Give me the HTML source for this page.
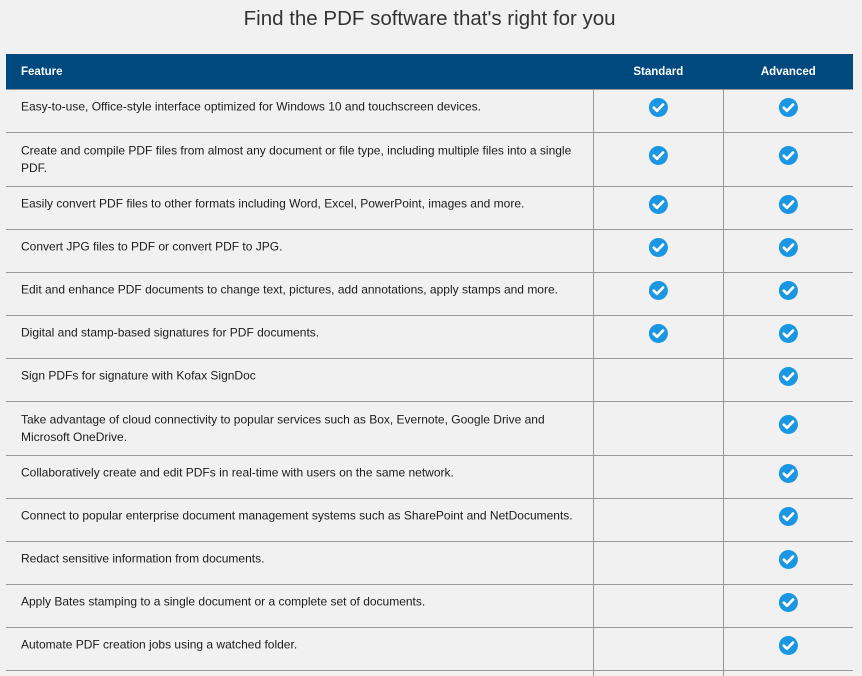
<!DOCTYPE html>
<html>
<head>
<meta charset="utf-8">
<style>
  html, body { margin:0; padding:0; background:#f1f1f1; }
  body { width:862px; height:676px; overflow:hidden; }
  svg { display:block; }
  text { font-family:"Liberation Sans", Arial, sans-serif; }
</style>
</head>
<body>
<svg width="862" height="676" viewBox="0 0 862 676" xmlns="http://www.w3.org/2000/svg">
  <defs>
    <g id="chk">
      <circle cx="0" cy="0" r="9.5" fill="#1a96e2"/>
      <path d="M-4.6,0.2 L-1.4,3.3 L4.6,-2.9" fill="none" stroke="#ffffff" stroke-width="2.7" stroke-linecap="round" stroke-linejoin="round"/>
    </g>
  </defs>
  <rect x="0" y="0" width="862" height="676" fill="#f1f1f1"/>

  <!-- Title -->
  <text x="429.6" y="25" font-size="20.5" fill="#333333" text-anchor="middle">Find the PDF software that's right for you</text>

  <!-- Header -->
  <rect x="6" y="54" width="847" height="35" fill="#00497f"/>
  <text x="21" y="75" font-size="11.5" font-weight="bold" fill="#ffffff">Feature</text>
  <text x="658.3" y="75" font-size="11.5" font-weight="bold" fill="#ffffff" text-anchor="middle">Standard</text>
  <text x="788.3" y="75" font-size="11.5" font-weight="bold" fill="#ffffff" text-anchor="middle">Advanced</text>

  <!-- Grid lines -->
  <g stroke="#999999" stroke-width="1">
    <line x1="6" x2="853" y1="89.5" y2="89.5"/>
    <line x1="6" x2="853" y1="132.5" y2="132.5"/>
    <line x1="6" x2="853" y1="186.5" y2="186.5"/>
    <line x1="6" x2="853" y1="229.5" y2="229.5"/>
    <line x1="6" x2="853" y1="272.5" y2="272.5"/>
    <line x1="6" x2="853" y1="315.5" y2="315.5"/>
    <line x1="6" x2="853" y1="358.5" y2="358.5"/>
    <line x1="6" x2="853" y1="401.5" y2="401.5"/>
    <line x1="6" x2="853" y1="455.5" y2="455.5"/>
    <line x1="6" x2="853" y1="498.5" y2="498.5"/>
    <line x1="6" x2="853" y1="541.5" y2="541.5"/>
    <line x1="6" x2="853" y1="584.5" y2="584.5"/>
    <line x1="6" x2="853" y1="627.5" y2="627.5"/>
    <line x1="6" x2="853" y1="670.5" y2="670.5"/>
    <line x1="593.5" x2="593.5" y1="89" y2="676"/>
    <line x1="723.5" x2="723.5" y1="89" y2="676"/>
  </g>

  <!-- Row text -->
  <g font-size="12" fill="#1c1c1c">
    <text x="21" y="110.7">Easy-to-use, Office-style interface optimized for Windows 10 and touchscreen devices.</text>
    <text x="21" y="154.5">Create and compile PDF files from almost any document or file type, including multiple files into a single</text>
    <text x="21" y="172.2">PDF.</text>
    <text x="21" y="207.7">Easily convert PDF files to other formats including Word, Excel, PowerPoint, images and more.</text>
    <text x="21" y="250.7">Convert JPG files to PDF or convert PDF to JPG.</text>
    <text x="21" y="293.7">Edit and enhance PDF documents to change text, pictures, add annotations, apply stamps and more.</text>
    <text x="21" y="336.7">Digital and stamp-based signatures for PDF documents.</text>
    <text x="21" y="379.7">Sign PDFs for signature with Kofax SignDoc</text>
    <text x="21" y="423.5">Take advantage of cloud connectivity to popular services such as Box, Evernote, Google Drive and</text>
    <text x="21" y="441.2">Microsoft OneDrive.</text>
    <text x="21" y="476.7">Collaboratively create and edit PDFs in real-time with users on the same network.</text>
    <text x="21" y="519.7">Connect to popular enterprise document management systems such as SharePoint and NetDocuments.</text>
    <text x="21" y="562.7">Redact sensitive information from documents.</text>
    <text x="21" y="605.7">Apply Bates stamping to a single document or a complete set of documents.</text>
    <text x="21" y="648.7">Automate PDF creation jobs using a watched folder.</text>
  </g>

  <!-- Checkmarks: Standard -->
  <use href="#chk" x="658.4" y="107.5"/>
  <use href="#chk" x="658.4" y="155.5"/>
  <use href="#chk" x="658.4" y="204.5"/>
  <use href="#chk" x="658.4" y="247.5"/>
  <use href="#chk" x="658.4" y="290.5"/>
  <use href="#chk" x="658.4" y="333.5"/>

  <!-- Checkmarks: Advanced -->
  <use href="#chk" x="788.4" y="107.5"/>
  <use href="#chk" x="788.4" y="155.5"/>
  <use href="#chk" x="788.4" y="204.5"/>
  <use href="#chk" x="788.4" y="247.5"/>
  <use href="#chk" x="788.4" y="290.5"/>
  <use href="#chk" x="788.4" y="333.5"/>
  <use href="#chk" x="788.4" y="376.5"/>
  <use href="#chk" x="788.4" y="424.5"/>
  <use href="#chk" x="788.4" y="473.5"/>
  <use href="#chk" x="788.4" y="516.5"/>
  <use href="#chk" x="788.4" y="559.5"/>
  <use href="#chk" x="788.4" y="602.5"/>
  <use href="#chk" x="788.4" y="645.5"/>
</svg>
</body>
</html>
